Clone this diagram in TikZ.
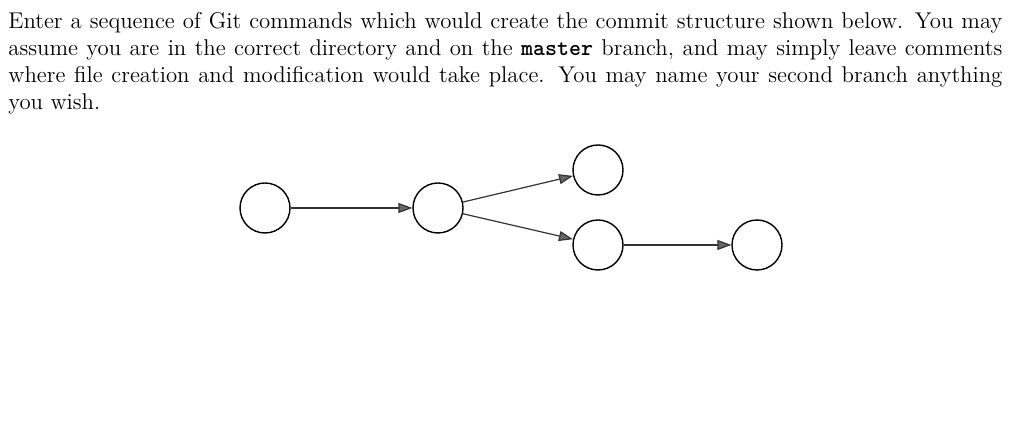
\documentclass[tikz,border=0pt]{standalone}
\usetikzlibrary{arrows.meta, positioning}
\tikzset{
    commit/.style={
        circle,
        draw=black,
        line width=0.7pt,
        minimum size=25pt,
        inner sep=0pt
    },
    edge/.style={
        draw=black!80,
        line width=0.6pt,
        -{Triangle[length=7pt, width=5pt, fill=black!60]}
    }
}
\begin{document}
\begin{tikzpicture}[x=1pt, y=1pt]
    \useasboundingbox (0,0) rectangle (512,218.5);
    % Question text
    \node[anchor=north west, text width=497pt, align=justify, inner sep=0pt, font=\fontsize{11.4}{13.5}\selectfont] (question) at (4,212.5) {
        Enter a sequence of Git commands which would create the commit structure shown below. You may assume you are in the correct directory and on the \texttt{\textbf{master}} branch, and may simply leave comments where file creation and modification would take place. You may name your second branch anything you wish.
    };

    % Commits
    \node[commit] (c1) at (132.5, 114.5) {};
    \node[commit] (c2) at (219, 114.5) {};
    \node[commit] (c3) at (299, 133.5) {};
    \node[commit] (c4) at (299, 96) {};
    \node[commit] (c5) at (378.5, 96) {};

    % Connections
    \draw[edge] (c1) -- (c2);
    \draw[edge] (c2) -- (c3);
    \draw[edge] (c2) -- (c4);
    \draw[edge] (c4) -- (c5);
\end{tikzpicture}
\end{document}
